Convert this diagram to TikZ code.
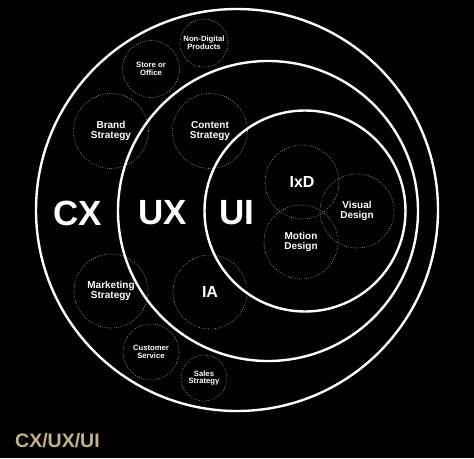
\documentclass[tikz,border=0pt]{standalone}
\usepackage{fontspec}
\setmainfont{Liberation Sans}
\definecolor{goldtext}{HTML}{C2B387}
\begin{document}
\begin{tikzpicture}[
      x=1pt, y=-1pt,
      ring/.style={circle, draw=white, line width=2.4pt, inner sep=0pt},
      topic/.style={circle, draw=gray!80, dash pattern=on 0.7pt off 1.6pt,
        line width=0.7pt, inner sep=0pt, text=white, align=center,
        font=\bfseries\fontsize{10}{10.5}\selectfont},
      small topic/.style={topic, font=\bfseries\fontsize{7.7}{7.8}\selectfont},
      layer/.style={text=white, font=\bfseries\fontsize{35}{38}\selectfont}
      ]
      \useasboundingbox (0,0) rectangle (474,458);
      \fill[black] (0,0) rectangle (474,458);
      % dotted topics
      \node[small topic, minimum size=48pt] (nondigital) at (204,43) {Non-Digital\\Products};
      \node[small topic, minimum size=57pt] (store) at (151,69) {Store or\\Office};
      \node[topic, minimum size=75pt] (brand) at (111,131) {Brand\\Strategy};
      \node[topic, minimum size=75pt] (content) at (210,131) {Content\\Strategy};
      \node[topic, minimum size=74pt] (marketing) at (111,291) {Marketing\\Strategy};
      \node[topic, minimum size=74pt, font=\bfseries\fontsize{16}{17}\selectfont] (ia) at (210,292) {IA};
      \node[small topic, minimum size=56pt] (customer) at (151,352) {Customer\\Service};
      \node[small topic, minimum size=46pt] (sales) at (204,378) {Sales\\Strategy};
      \node[topic, minimum size=74pt, font=\bfseries\fontsize{16}{17}\selectfont] (ixd) at (302,182) {IxD};
      \node[topic, minimum size=74pt] (visual) at (357,211) {Visual\\Design};
      \node[topic, minimum size=74pt] (motion) at (301,242) {Motion\\Design};
      % rings
      \node[ring, minimum size=402pt] (cx) at (237,210) {};
      \node[ring, minimum size=300pt] (ux) at (268,211) {};
      \node[ring, minimum size=201pt] (ui) at (305,211) {};
      \node[layer] (cxlabel) at (78,213) {CX};
      \node[layer] (uxlabel) at (163,213) {UX};
      \node[layer] (uilabel) at (237,213) {UI};
      \node[text=goldtext, font=\bfseries\fontsize{19.5}{21}\selectfont, anchor=west, inner sep=0pt] (title) at (15,441) {CX/UX/UI};
    \end{tikzpicture}
\end{document}
